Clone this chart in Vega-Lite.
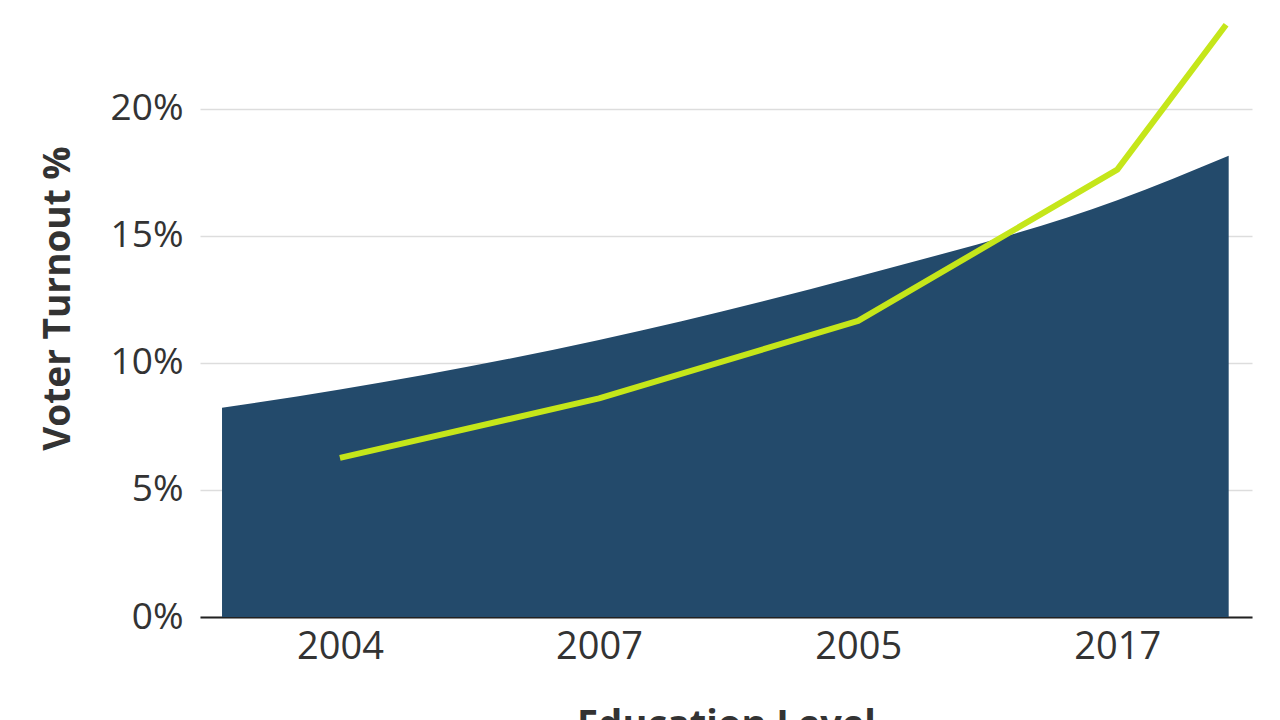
{
  "$schema": "https://vega.github.io/schema/vega-lite/v6.json",
  "width": 1052,
  "height": 610,
  "autosize": {"type": "none"},
  "padding": {"left": 200, "top": 7, "right": 28, "bottom": 103},
  "background": "white",
  "config": {
    "view": {"stroke": null},
    "font": "Open Sans"
  },
  "datasets": {
    "area": [
      {"idx": -0.455, "turnout": 8.23},
      {"idx": 0, "turnout": 8.95},
      {"idx": 1, "turnout": 10.9},
      {"idx": 2, "turnout": 13.4},
      {"idx": 3, "turnout": 16.4},
      {"idx": 3.43, "turnout": 18.15}
    ],
    "line": [
      {"idx": 0, "turnout": 6.26},
      {"idx": 1, "turnout": 8.6},
      {"idx": 2, "turnout": 11.65},
      {"idx": 3, "turnout": 17.6},
      {"idx": 3.42, "turnout": 23.3}
    ]
  },
  "layer": [
    {
      "data": {"name": "area"},
      "mark": {"type": "area", "color": "#234a6b", "interpolate": "monotone"},
      "encoding": {
        "x": {
          "field": "idx", "type": "quantitative",
          "scale": {"domain": [-0.54, 3.52], "nice": false, "zero": false},
          "axis": {
            "values": [0, 1, 2, 3],
            "labelExpr": "['2004','2007','2005','2017'][datum.value]",
            "title": "Education Level",
            "grid": false,
            "ticks": false,
            "domainColor": "#222222",
            "domainWidth": 2,
            "labelFontSize": 38,
            "labelColor": "#333333",
            "labelPadding": 11,
            "titleFontSize": 38,
            "titleFontWeight": "bold",
            "titleColor": "#333333",
            "titlePadding": 40
          }
        },
        "y": {
          "field": "turnout", "type": "quantitative",
          "scale": {"domain": [0, 24], "nice": false},
          "axis": {
            "values": [0, 5, 10, 15, 20],
            "labelExpr": "datum.value + '%'",
            "title": "Voter Turnout %",
            "domain": false,
            "ticks": false,
            "gridColor": "#dddddd",
            "gridWidth": 1.5,
            "labelFontSize": 37,
            "labelColor": "#333333",
            "labelPadding": 17,
            "titleFontSize": 37,
            "titleFontWeight": "bold",
            "titleColor": "#333333",
            "titlePadding": 33,
            "titleY": 291
          }
        }
      }
    },
    {
      "data": {"name": "line"},
      "mark": {"type": "line", "color": "#c5e61a", "strokeWidth": 6, "strokeCap": "butt", "strokeJoin": "round"},
      "encoding": {
        "x": {"field": "idx", "type": "quantitative"},
        "y": {"field": "turnout", "type": "quantitative"}
      }
    }
  ]
}
